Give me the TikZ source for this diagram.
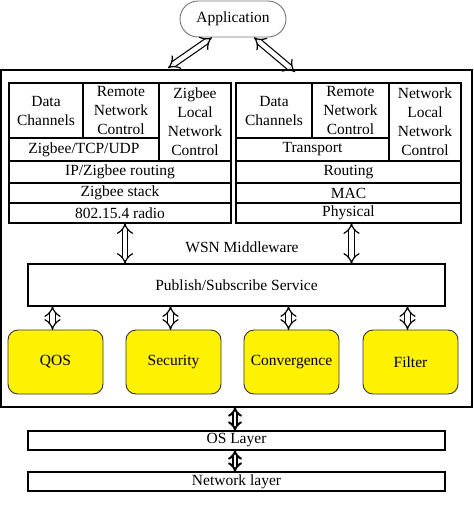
\documentclass[tikz,border=0pt]{standalone}
\usepackage{fontspec}
\setmainfont{Liberation Serif}
\usetikzlibrary{shapes.misc,arrows.meta}
\newcommand\fsz{\fontsize{15.5}{19}\selectfont}
\tikzset{
  cell/.style={draw, line width=1.3pt, inner sep=0pt, outer sep=0pt, anchor=north west, align=center, font=\fsz},
  ybox/.style={draw=black!80, line width=0.9pt, fill=yellow, rounded corners=10pt, inner sep=0pt, outer sep=0pt, anchor=north west, font=\fsz, minimum width=95pt, minimum height=64pt},
  dbl/.style={double, double distance=4.5pt, line width=1.2pt, {Implies}-{Implies}},
  dbls/.style={double, double distance=2.5pt, line width=2pt, {Implies}-{Implies}},
}
\begin{document}
\begin{tikzpicture}[x=1pt,y=-1pt]
\useasboundingbox (0,0) rectangle (474,517);
% application
\node[rounded rectangle, draw=black!55, line width=0.9pt, minimum width=106pt, minimum height=36pt, inner sep=0pt, font=\fsz] (app) at (233,19) {Application};
% outer middleware box
\node[draw, line width=2pt, inner sep=0pt, outer sep=0pt, anchor=north west, minimum width=471pt, minimum height=337pt] (mw) at (1,70) {};
\coordinate (al) at (168,68);
\coordinate (ar) at (295,72);
\draw[dbl] ([xshift=-21pt]app.south) -- (al);
\draw[dbl] ([xshift=21pt]app.south) -- (ar);
% left stack
\node[cell, minimum width=74pt, minimum height=55pt] (ldc) at (9,83) {Data\\Channels};
\node[cell, minimum width=76pt, minimum height=55pt] (lrnc) at (83,83) {Remote\\Network\\Control};
\node[cell, minimum width=72pt, minimum height=78pt] (lzl) at (159,83) {Zigbee\\Local\\Network\\Control};
\node[cell, minimum width=150pt, minimum height=23pt] (ltcp) at (9,138) {Zigbee/TCP/UDP};
\node[cell, minimum width=222pt, minimum height=22pt] (lip) at (9,161) {IP/Zigbee routing};
\node[cell, minimum width=222pt, minimum height=20pt] (lzs) at (9,183) {Zigbee stack};
\node[cell, minimum width=222pt, minimum height=20pt] (lrad) at (9,203) {802.15.4 radio};
% right stack
\node[cell, minimum width=76pt, minimum height=55pt] (rdc) at (236,83) {Data\\Channels};
\node[cell, minimum width=77pt, minimum height=55pt] (rrnc) at (312,83) {Remote\\Network\\Control};
\node[cell, minimum width=72pt, minimum height=78pt] (rnl) at (389,83) {Network\\Local\\Network\\Control};
\node[cell, minimum width=153pt, minimum height=23pt] (rtr) at (236,138) {Transport};
\node[cell, minimum width=225pt, minimum height=22pt] (rrt) at (236,161) {Routing};
\node[cell, minimum width=225pt, minimum height=20pt] (rmac) at (236,183) {MAC};
\node[cell, minimum width=225pt, minimum height=20pt] (rphy) at (236,203) {Physical};
% middleware label
\node[font=\fsz, inner sep=0pt] (wsn) at (242,247) {WSN Middleware};
% publish/subscribe
\node[cell, line width=1.1pt, minimum width=417pt, minimum height=42pt] (pub) at (28,264) {Publish/Subscribe Service};
\draw[dbl] ([xshift=5pt]lrad.south) -- ([xshift=5pt]lrad.south |- pub.north);
\draw[dbl] ([xshift=3pt]rphy.south) -- ([xshift=3pt]rphy.south |- pub.north);
% yellow boxes
\node[ybox] (qos) at (8,330) {QOS};
\node[ybox] (sec) at (126,330) {Security};
\node[ybox] (conv) at (244,330) {Convergence};
\node[ybox] (filt) at (363,330) {Filter};
\foreach \n in {qos,sec,conv,filt}{
  \draw[dbl] ([xshift=-3pt]\n.north) -- ([xshift=-3pt]\n.north |- pub.south);
}
% OS and network layers
\node[cell, minimum width=417pt, minimum height=19pt] (os) at (28,431) {OS Layer};
\node[cell, minimum width=417pt, minimum height=19pt] (net) at (28,472) {Network layer};
\draw[dbls] ([xshift=-1.5pt]os.north |- mw.south) -- ([xshift=-1.5pt]os.north);
\draw[dbls] ([xshift=-1.5pt]os.south) -- ([xshift=-1.5pt]net.north);
\end{tikzpicture}
\end{document}
